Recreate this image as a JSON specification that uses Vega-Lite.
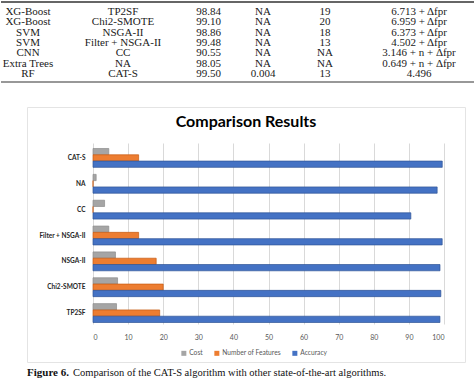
{
  "$schema": "https://vega.github.io/schema/vega-lite/v6.json",
  "background": "white",
  "padding": {"top": 1, "left": 0, "right": 0, "bottom": 0},
  "autosize": {"type": "pad"},
  "bounds": "flush",
  "spacing": 5,
  "config": {"view": {"stroke": null}, "font": "Lato"},
  "datasets": {
    "table": [
      {"Model": "XG-Boost", "Method": "TP2SF", "Accuracy": "98.84", "Cost": "NA", "Features": "19", "Complexity": "6.713 + Δfpr"},
      {"Model": "XG-Boost", "Method": "Chi2-SMOTE", "Accuracy": "99.10", "Cost": "NA", "Features": "20", "Complexity": "6.959 + Δfpr"},
      {"Model": "SVM", "Method": "NSGA-II", "Accuracy": "98.86", "Cost": "NA", "Features": "18", "Complexity": "6.373 + Δfpr"},
      {"Model": "SVM", "Method": "Filter + NSGA-II", "Accuracy": "99.48", "Cost": "NA", "Features": "13", "Complexity": "4.502 + Δfpr"},
      {"Model": "CNN", "Method": "CC", "Accuracy": "90.55", "Cost": "NA", "Features": "NA", "Complexity": "3.146 + n + Δfpr"},
      {"Model": "Extra Trees", "Method": "NA", "Accuracy": "98.05", "Cost": "NA", "Features": "NA", "Complexity": "0.649 + n + Δfpr"},
      {"Model": "RF", "Method": "CAT-S", "Accuracy": "99.50", "Cost": "0.004", "Features": "13", "Complexity": "4.496"}
    ],
    "cols": [
      {"key": "Model", "idx": 1},
      {"key": "Method", "idx": 2},
      {"key": "Accuracy", "idx": 3},
      {"key": "Cost", "idx": 4},
      {"key": "Features", "idx": 5},
      {"key": "Complexity", "idx": 6}
    ],
    "results": [
      {"method": "CAT-S", "series": "Cost", "value": 4.5},
      {"method": "CAT-S", "series": "Number of Features", "value": 13},
      {"method": "CAT-S", "series": "Accuracy", "value": 99.5},
      {"method": "NA", "series": "Cost", "value": 0.9},
      {"method": "NA", "series": "Number of Features", "value": 0},
      {"method": "NA", "series": "Accuracy", "value": 98.05},
      {"method": "CC", "series": "Cost", "value": 3.3},
      {"method": "CC", "series": "Number of Features", "value": 0},
      {"method": "CC", "series": "Accuracy", "value": 90.55},
      {"method": "Filter + NSGA-II", "series": "Cost", "value": 4.5},
      {"method": "Filter + NSGA-II", "series": "Number of Features", "value": 13},
      {"method": "Filter + NSGA-II", "series": "Accuracy", "value": 99.48},
      {"method": "NSGA-II", "series": "Cost", "value": 6.4},
      {"method": "NSGA-II", "series": "Number of Features", "value": 18},
      {"method": "NSGA-II", "series": "Accuracy", "value": 98.86},
      {"method": "Chi2-SMOTE", "series": "Cost", "value": 7.0},
      {"method": "Chi2-SMOTE", "series": "Number of Features", "value": 20},
      {"method": "Chi2-SMOTE", "series": "Accuracy", "value": 99.1},
      {"method": "TP2SF", "series": "Cost", "value": 6.7},
      {"method": "TP2SF", "series": "Number of Features", "value": 19},
      {"method": "TP2SF", "series": "Accuracy", "value": 98.84}
    ],
    "caption": [
      {"seq": 1, "part": "Figure 6.", "bold": true},
      {"seq": 2, "part": "Comparison of the CAT-S algorithm with other state-of-the-art algorithms.", "bold": false}
    ]
  },
  "resolve": {"scale": {"x": "independent", "y": "independent", "color": "independent"}},
  "vconcat": [
    {
      "width": 438,
      "height": 100,
      "layer": [
        {
          "data": {"name": "table"},
          "transform": [
            {"fold": ["Model", "Method", "Accuracy", "Cost", "Features", "Complexity"], "as": ["key", "value"]},
            {"lookup": "key", "from": {"data": {"name": "cols"}, "key": "key", "fields": ["idx"]}}
          ],
          "mark": {"type": "text", "font": "Liberation Serif", "fontSize": 11, "color": "#1a1a1a", "baseline": "middle"},
          "encoding": {
            "x": {"field": "idx", "type": "quantitative",
              "scale": {"domain": [0, 1, 2, 3, 4, 5, 6, 7], "range": [-26, 1, 96, 181.5, 236, 298, 392, 448], "nice": false, "zero": false},
              "axis": null},
            "y": {"field": "Method", "type": "nominal", "sort": null, "scale": {"type": "point", "range": [10, 72], "padding": 0}, "axis": null},
            "text": {"field": "value"}
          }
        },
        {
          "data": {"values": [{}]},
          "mark": {"type": "rule", "color": "#333333", "strokeWidth": 1.2},
          "encoding": {
            "x": {"datum": 0, "type": "quantitative"},
            "x2": {"datum": 7},
            "y": {"datum": 0, "type": "quantitative", "scale": {"domain": [-0.25, 1], "nice": false, "zero": false}, "axis": null}
          }
        },
        {
          "data": {"values": [{}]},
          "mark": {"type": "rule", "color": "#333333", "strokeWidth": 1.6},
          "encoding": {
            "x": {"datum": 0, "type": "quantitative"},
            "x2": {"datum": 7},
            "y": {"datum": 1, "type": "quantitative", "scale": {"domain": [-0.25, 1], "nice": false, "zero": false}, "axis": null}
          }
        }
      ],
      "resolve": {"scale": {"y": "independent"}}
    },
    {
      "width": 438,
      "height": 255,
      "view": {"stroke": "#e4e4e4", "strokeWidth": 1},
      "title": {"text": "Comparison Results", "font": "Lato", "fontSize": 16, "fontWeight": "bold", "color": "#000000", "anchor": "middle", "offset": -31, "baseline": "middle"},
      "data": {"name": "results"},
      "mark": {"type": "bar", "strokeWidth": 0.7},
      "encoding": {
        "y": {"field": "method", "type": "nominal",
          "sort": ["CAT-S", "NA", "CC", "Filter + NSGA-II", "NSGA-II", "Chi2-SMOTE", "TP2SF"],
          "scale": {"range": [38, 219], "paddingInner": 0.27, "paddingOuter": 0.135},
          "axis": {"orient": "left", "offset": -66, "domain": false, "ticks": false, "labelPadding": 8, "labelFont": "Lato", "labelFontSize": 6.5, "labelFontWeight": "bold", "labelColor": "#262626", "title": null}},
        "x": {"field": "value", "type": "quantitative",
          "scale": {"domain": [0, 100], "range": [66, 417], "nice": false},
          "axis": {"values": [0, 10, 20, 30, 40, 50, 60, 70, 80, 90, 100], "offset": -31, "domain": false, "ticks": false, "grid": true, "gridColor": "#d9d9d9", "labelFont": "Lato", "labelFontSize": 7, "labelColor": "#595959", "labelPadding": 2, "title": null}},
        "yOffset": {"field": "series", "type": "nominal", "sort": ["Cost", "Number of Features", "Accuracy"], "scale": {"paddingInner": 0, "paddingOuter": 0}},
        "color": {"field": "series", "type": "nominal",
          "scale": {"domain": ["Cost", "Number of Features", "Accuracy"], "range": ["#a5a5a5", "#ed7d31", "#4472c4"]},
          "legend": {"orient": "none", "legendX": 153.5, "legendY": 242.5, "direction": "horizontal", "title": null, "symbolType": "square", "symbolSize": 25, "symbolStrokeWidth": 0, "labelFont": "Lato", "labelFontSize": 6.7, "labelColor": "#595959", "columnPadding": 10, "labelOffset": 2, "padding": 0}},
        "stroke": {"field": "series", "type": "nominal",
          "scale": {"domain": ["Cost", "Number of Features", "Accuracy"], "range": ["#8c8c8c", "#c55a11", "#2f5597"]},
          "legend": null}
      }
    },
    {
      "width": 438,
      "height": 12,
      "data": {"name": "caption"},
      "layer": [
        {
          "transform": [{"filter": "datum.bold"}],
          "mark": {"type": "text", "align": "left", "baseline": "middle", "font": "Liberation Serif", "fontSize": 11, "fontWeight": "bold", "color": "#111111"},
          "encoding": {
            "x": {"field": "seq", "type": "ordinal", "scale": {"type": "point", "range": [0, 46], "padding": 0}, "axis": null},
            "text": {"field": "part"}
          }
        },
        {
          "transform": [{"filter": "!datum.bold"}],
          "mark": {"type": "text", "align": "left", "baseline": "middle", "font": "Liberation Serif", "fontSize": 10.5, "color": "#111111"},
          "encoding": {
            "x": {"field": "seq", "type": "ordinal", "axis": null},
            "text": {"field": "part"}
          }
        }
      ]
    }
  ]
}
